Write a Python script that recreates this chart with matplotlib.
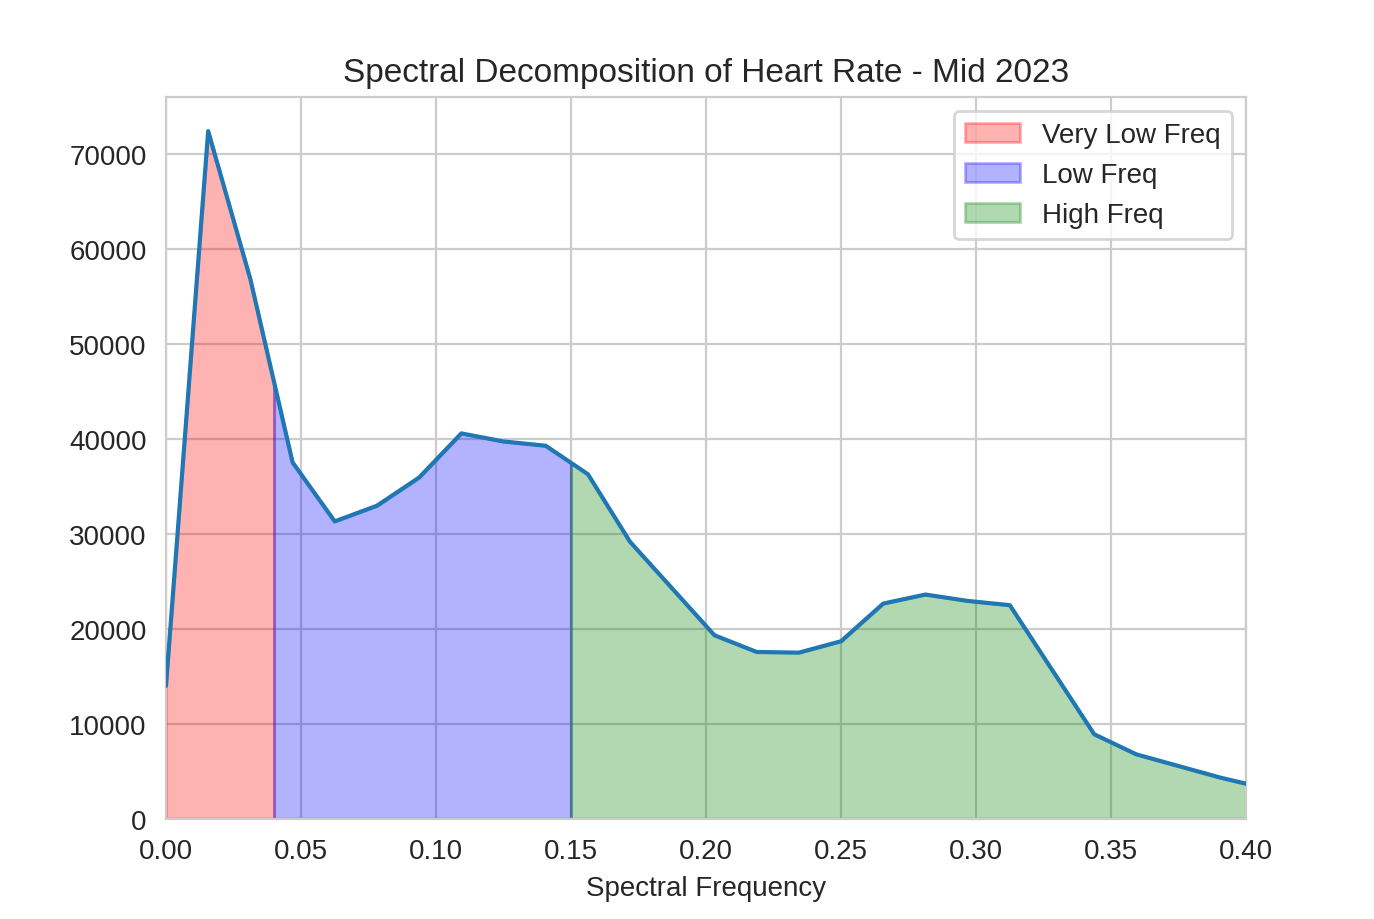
import numpy as np
import matplotlib
matplotlib.use("Agg")
import matplotlib.pyplot as plt
import seaborn as sns

# Welch PSD, 1/64 Hz spacing
freqs = np.arange(27) / 64.0
psd = [14000, 72450, 56850, 37550, 31330, 32980, 35950, 40600, 39750, 39300,
       36300, 29170, 24250, 19330, 17570, 17500, 18700, 22670, 23620, 22950,
       22500, 15700, 8900, 6780, 5550, 4320, 3270]

band_names = ["Very Low Freq", "Low Freq", "High Freq"]
band_edges = [(0.0, 0.04), (0.04, 0.15), (0.15, 0.40)]
band_colors = ["red", "blue", "green"]

sns.set_style("whitegrid")
plt.rcParams['font.family'] = ['Liberation Sans', 'DejaVu Sans']

fig = plt.figure(figsize=(6.87, 4.6), dpi=200)
ax = fig.add_axes([0.1208, 0.1090, 0.7861, 0.7840])

for name, (lo, hi), col in zip(band_names, band_edges, band_colors):
    inner = freqs[(freqs > lo) & (freqs < hi)]
    xs = np.concatenate([[lo], inner, [hi]])
    ys = np.interp(xs, freqs, psd)
    ax.fill_between(xs, 0, ys, color=col, alpha=0.3, label=name)

ax.plot(freqs, psd, color="#1f77b4", linewidth=1.5, zorder=3)

ax.set_xlim(0, 0.40)
ax.set_ylim(0, 76000)
ax.set_xticks(np.arange(0, 0.41, 0.05))
ax.set_title("Spectral Decomposition of Heart Rate - Mid 2023", fontsize=12)
ax.set_xlabel("Spectral Frequency", fontsize=10)
ax.tick_params(labelsize=10)
ax.legend(loc="upper right", fontsize=10)

fig.savefig("out.png", dpi=200)
